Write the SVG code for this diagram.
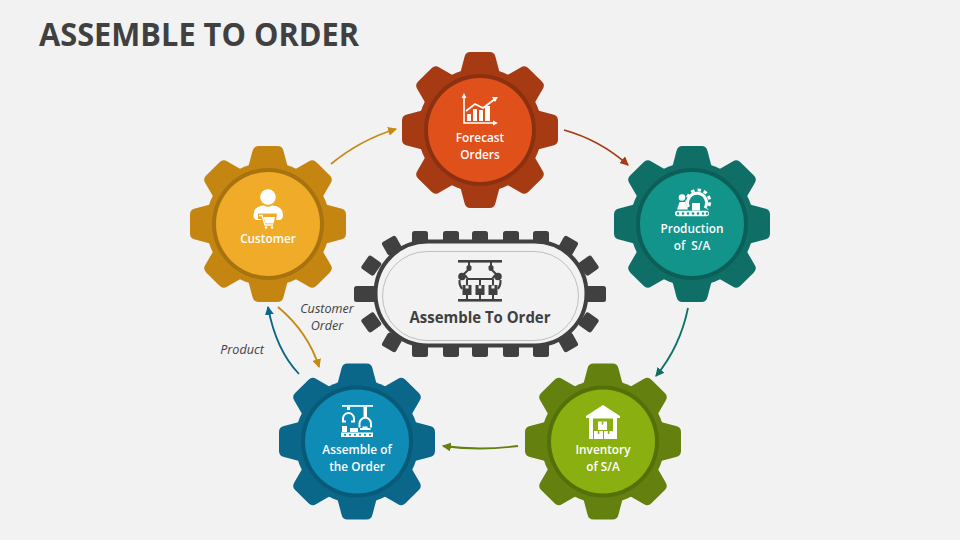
<svg xmlns="http://www.w3.org/2000/svg" width="960" height="540" viewBox="0 0 960 540">
<style>
text{font-family:"Open Sans","Liberation Sans",sans-serif}
.t{font-size:32px;font-weight:700;fill:#404040}
.l{font-size:11.800px;font-weight:600;fill:#fff;text-anchor:middle}
.c{font-size:16px;font-weight:700;fill:#404040;text-anchor:middle}
.i{font-size:12.600px;font-style:italic;fill:#404040;text-anchor:middle}
.cn{fill:none;stroke-width:1.800}
.w{fill:#fff}
.wl{fill:none;stroke:#fff}
.d{fill:#404040}
.dl{fill:none;stroke:#404040}
</style>
<defs>
<path id="tooth" d="M-20,-56 L-15.500,-73 Q-14.500,-78 -9.500,-78 L9.500,-78 Q14.500,-78 15.500,-73 L20,-56 Z"/>
<g id="gear">
<circle r="62"/>
<use href="#tooth"/>
<use href="#tooth" transform="rotate(45)"/>
<use href="#tooth" transform="rotate(90)"/>
<use href="#tooth" transform="rotate(135)"/>
<use href="#tooth" transform="rotate(180)"/>
<use href="#tooth" transform="rotate(225)"/>
<use href="#tooth" transform="rotate(270)"/>
<use href="#tooth" transform="rotate(315)"/>
</g>
<rect id="ct" x="-8" y="-10" width="16" height="14" rx="2.500"/>
<marker id="ag" viewBox="0 0 8 8" refX="7" refY="4" markerWidth="5" markerHeight="5" markerUnits="strokeWidth" orient="auto"><path d="M0,0 L8,4 L0,8 Z" fill="#c58a10"/></marker>
<marker id="ar" viewBox="0 0 8 8" refX="7" refY="4" markerWidth="5" markerHeight="5" markerUnits="strokeWidth" orient="auto"><path d="M0,0 L8,4 L0,8 Z" fill="#a53a13"/></marker>
<marker id="at" viewBox="0 0 8 8" refX="7" refY="4" markerWidth="5" markerHeight="5" markerUnits="strokeWidth" orient="auto"><path d="M0,0 L8,4 L0,8 Z" fill="#0f6e66"/></marker>
<marker id="ao" viewBox="0 0 8 8" refX="7" refY="4" markerWidth="5" markerHeight="5" markerUnits="strokeWidth" orient="auto"><path d="M0,0 L8,4 L0,8 Z" fill="#64800f"/></marker>
<marker id="ab" viewBox="0 0 8 8" refX="7" refY="4" markerWidth="5" markerHeight="5" markerUnits="strokeWidth" orient="auto"><path d="M0,0 L8,4 L0,8 Z" fill="#0a678a"/></marker>
</defs>
<rect width="960" height="540" fill="#f2f2f2"/>
<text class="t" x="39" y="46" textLength="320" lengthAdjust="spacingAndGlyphs">ASSEMBLE TO ORDER</text>

<g id="connectors">
<path class="cn" stroke="#c58a10" marker-end="url(#ag)" d="M331,164 Q360,140 396,129"/>
<path class="cn" stroke="#a53a13" marker-end="url(#ar)" d="M564,130 Q600,140 628,165"/>
<path class="cn" stroke="#0f6e66" marker-end="url(#at)" d="M688,308 Q680,347 656,376"/>
<path class="cn" stroke="#64800f" marker-end="url(#ao)" d="M518,446 Q480,451 443,446"/>
<path class="cn" stroke="#0a678a" marker-end="url(#ab)" d="M299,374 Q276,350 268,307"/>
<path class="cn" stroke="#c58a10" marker-end="url(#ag)" d="M278,307 Q308,332 319,367"/>
</g>
<text class="i" x="327" y="313">Customer</text>
<text class="i" x="327" y="330">Order</text>
<text class="i" x="242" y="354">Product</text>

<g id="center">
<g class="d">
<use href="#ct" x="420" y="241"/><use href="#ct" x="451" y="241"/><use href="#ct" x="480" y="241"/><use href="#ct" x="511" y="241"/><use href="#ct" x="541" y="241"/>
<use href="#ct" transform="translate(420,347) scale(1,-1)"/><use href="#ct" transform="translate(451,347) scale(1,-1)"/><use href="#ct" transform="translate(480,347) scale(1,-1)"/><use href="#ct" transform="translate(511,347) scale(1,-1)"/><use href="#ct" transform="translate(541,347) scale(1,-1)"/>
<rect x="354" y="286" width="24" height="16" rx="2.500"/><rect x="582" y="286" width="24" height="16" rx="2.500"/>
<use href="#ct" transform="translate(393.500,248.500) rotate(-30) scale(1,1.100)"/>
<use href="#ct" transform="translate(566.500,248.500) rotate(30) scale(1,1.100)"/>
<use href="#ct" transform="translate(393.500,339.500) rotate(210) scale(1,1.100)"/>
<use href="#ct" transform="translate(566.500,339.500) rotate(150) scale(1,1.100)"/>
<use href="#ct" transform="translate(374,267.500) rotate(-55) scale(1,1.100)"/>
<use href="#ct" transform="translate(586,267.500) rotate(55) scale(1,1.100)"/>
<use href="#ct" transform="translate(374,320.500) rotate(235) scale(1,1.100)"/>
<use href="#ct" transform="translate(586,320.500) rotate(125) scale(1,1.100)"/>
</g>
<rect x="375.500" y="241.500" width="211" height="104" rx="52" fill="#f2f2f2" stroke="#404040" stroke-width="4"/>
<rect x="382.500" y="251.500" width="196" height="89" rx="44.500" fill="#f2f2f2" stroke="#bfbfbf" stroke-width="1"/>
<g id="center-icon">
<rect class="d" x="458" y="260" width="44" height="2.600"/>
<rect class="d" x="458" y="299" width="44" height="2.600"/>
<path class="d" d="M468,262 h2 v3 l1.500,1.500 v2 a2.500,2.500 0 0 1 -5,0 v-2 l1.500,-1.500 Z"/>
<path class="d" d="M490,262 h2 v3 l1.500,1.500 v2 a2.500,2.500 0 0 1 -5,0 v-2 l1.500,-1.500 Z"/>
<circle class="d" cx="462" cy="276.500" r="3.800"/><circle class="d" cx="498" cy="276.500" r="3.800"/>
<path class="dl" stroke-width="2" d="M464,274 L468,270 M496,274 L492,270 M465,275 L468,279 H492 L495,275 M467,279 V285 M480,279 V285 M493,279 V285 M459.500,280 Q459,285 462,289 M500.500,280 Q501,285 498,289 M467,295 V299 M480,295 V299 M493,295 V299"/>
<g class="d"><rect x="462.500" y="285" width="9" height="10"/><rect x="475.500" y="285" width="9" height="10"/><rect x="488.500" y="285" width="9" height="10"/></g>
<g fill="#f2f2f2"><rect x="465.500" y="285.500" width="3" height="3"/><rect x="478.500" y="285.500" width="3" height="3"/><rect x="491.500" y="285.500" width="3" height="3"/></g>
</g>
<text class="c" x="480" y="323" textLength="141" lengthAdjust="spacingAndGlyphs">Assemble To Order</text>
</g>

<g id="customer" transform="translate(268,224)">
<use href="#gear" fill="#c48511"/>
<circle r="56" fill="#a8720e"/><circle r="52" fill="#f0ab28"/>
<circle class="w" cy="-27" r="7.800"/>
<path class="w" d="M-14.500,-9 Q-14.500,-18 -4,-18.500 Q0,-16 4,-18.500 Q15,-18 15,-9 Q15,-4 11,-4 L-11,-4 Q-14.500,-4 -14.500,-9 Z"/>
<path fill="#f0ab28" d="M-10,-10.500 H9 L8,-4 H7 L6,6 H-6 L-7,-5 H-10 Z"/>
<path class="wl" stroke-width="1.300" d="M-9,-8.500 H-6 L-3,1 H5"/>
<path class="w" d="M-4.500,-7 H7 L5.500,-0.500 H-2.500 Z"/>
<circle class="w" cx="-2" cy="3.500" r="1.300"/><circle class="w" cx="4" cy="3.500" r="1.300"/>
<text class="l" y="18.500">Customer</text>
</g>

<g id="forecast" transform="translate(480,130)">
<use href="#gear" fill="#a53a13"/>
<circle r="56" fill="#8c3110"/><circle r="52" fill="#e0501b"/>
<path class="wl" stroke-width="1.600" d="M-16,-33 V-7 H14"/>
<path class="w" d="M-16,-37 L-18.500,-32 H-13.500 Z M18,-7 L13,-9.500 V-4.500 Z"/>
<path class="w" d="M-13,-16 H-9 V-9 H-13 Z M-7,-21 H-3 V-9 H-7 Z M-1,-20 H3 V-9 H-1 Z M5,-24 H10 V-9 H5 Z"/>
<path class="wl" stroke-width="1.800" d="M-14,-19 L-5,-26 L3,-22 L15,-31"/>
<path class="w" d="M18,-33 L12,-33 L15,-28 Z"/>
<text class="l" y="11.500">Forecast</text>
<text class="l" y="28.500">Orders</text>
</g>

<g id="production" transform="translate(692,224)">
<use href="#gear" fill="#0f6e66"/>
<circle r="56" fill="#0c5f58"/><circle r="52" fill="#12948a"/>
<circle class="w" cx="-10" cy="-26.500" r="3.300"/>
<path class="w" d="M-15,-14.500 L-12.500,-22 H-7 L-4,-14.500 Z"/>
<path class="wl" stroke-width="3" d="M-3.500,-17 A9.500,9.500 0 1 1 13,-16"/>
<path class="wl" stroke-width="3" stroke-dasharray="3.500 3" d="M-5,-20 A11.500,11.500 0 1 1 15,-15"/>
<rect class="w" x="0" y="-21" width="8" height="7.500"/>
<rect class="w" x="-17" y="-13.300" width="34" height="5.500" rx="2.700"/>
<g fill="#12948a"><circle cx="-14" cy="-10.500" r="1.300"/><circle cx="-9" cy="-10.500" r="1.300"/><circle cx="-4" cy="-10.500" r="1.300"/><circle cx="1" cy="-10.500" r="1.300"/><circle cx="6" cy="-10.500" r="1.300"/><circle cx="11" cy="-10.500" r="1.300"/><circle cx="15" cy="-10.500" r="1.300"/></g>
<text class="l" y="8.500">Production</text>
<text class="l" y="25.500" xml:space="preserve">of  S/A</text>
</g>

<g id="inventory" transform="translate(603,441.500)">
<use href="#gear" fill="#64800f"/>
<circle r="56" fill="#557009"/><circle r="52" fill="#8aaf10"/>
<path class="w" d="M0,-36.500 L17,-25.500 V-23.500 H14 V-2.500 H-14 V-23.500 H-17 V-25.500 Z"/>
<rect x="-10" y="-23" width="20" height="20.500" fill="#8aaf10"/>
<g class="w"><rect x="-5" y="-20" width="9" height="8.500"/><rect x="-9" y="-10.500" width="9" height="8"/><rect x="1" y="-10.500" width="9" height="8"/></g>
<g fill="#8aaf10"><rect x="-1.200" y="-20" width="1.500" height="3"/><rect x="-5.200" y="-10.500" width="1.500" height="3"/><rect x="4.800" y="-10.500" width="1.500" height="3"/></g>
<text class="l" y="12.500">Inventory</text>
<text class="l" y="29.500">of S/A</text>
</g>

<g id="assemble" transform="translate(357,441.500)">
<use href="#gear" fill="#0a678a"/>
<circle r="56" fill="#085a79"/><circle r="52" fill="#0e8cb6"/>
<rect class="w" x="-15" y="-36.500" width="31" height="1.800"/>
<rect class="w" x="-10" y="-34.500" width="3" height="3"/>
<path class="wl" stroke-width="2" d="M-11,-20 H-14 V-23 A5.500,5.500 0 0 1 -3,-23 V-20 H-6"/>
<rect class="w" x="6.500" y="-34.500" width="3.500" height="10"/>
<path class="wl" stroke-width="2" d="M2.500,-14 V-18 A5.500,5.500 0 0 1 14,-18 V-14 M3,-12.500 H13.500"/>
<rect class="w" x="5.500" y="-15" width="5" height="3"/>
<rect class="w" x="-15" y="-15.500" width="5" height="6"/>
<path class="w" d="M-7,-13.500 H1 V-9.500 H-7 Z"/>
<rect class="w" x="-16" y="-9" width="32" height="4.500"/>
<g fill="#0e8cb6"><circle cx="-12" cy="-6.700" r="1.100"/><circle cx="-7" cy="-6.700" r="1.100"/><circle cx="-2" cy="-6.700" r="1.100"/><circle cx="3" cy="-6.700" r="1.100"/><circle cx="8" cy="-6.700" r="1.100"/><circle cx="13" cy="-6.700" r="1.100"/></g>
<text class="l" y="12.500">Assemble of</text>
<text class="l" y="29.500">the Order</text>
</g>
</svg>
